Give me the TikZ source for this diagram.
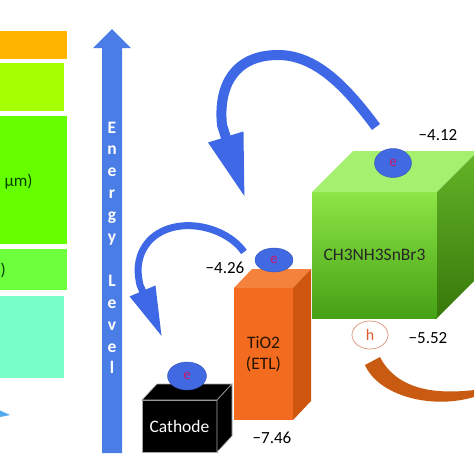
\documentclass[tikz,border=0pt]{standalone}
\usepackage{fontspec}
\setmainfont{Carlito}
\usetikzlibrary{arrows.meta,shapes.geometric}
\definecolor{levelblue}{HTML}{4A7DE6}
\definecolor{arcblue}{HTML}{3F68E6}
\definecolor{eblue}{HTML}{4169E1}
\definecolor{ered}{HTML}{C8186E}
\definecolor{holeorange}{HTML}{C85A12}
\definecolor{holeline}{HTML}{D8957A}
\definecolor{htext}{HTML}{E05A2A}
\definecolor{barA}{HTML}{FFB400}
\definecolor{barB}{HTML}{A6FF00}
\definecolor{barC}{HTML}{66FF00}
\definecolor{barD}{HTML}{6EFF3D}
\definecolor{barE}{HTML}{78FFC8}
\definecolor{barblue}{HTML}{55AAEE}
\definecolor{pvfrontA}{HTML}{8CE646}
\definecolor{pvfrontB}{HTML}{46A014}
\definecolor{pvtop}{HTML}{A5F06E}
\definecolor{pvsideA}{HTML}{64B428}
\definecolor{pvsideB}{HTML}{37780A}
\definecolor{tifront}{HTML}{F26B1F}
\definecolor{titop}{HTML}{F4823C}
\definecolor{tiside}{HTML}{CF560F}
\tikzset{
  face/.style={rectangle, inner sep=0pt, outer sep=0pt, align=center,
    font=\fontsize{17.5}{21}\selectfont},
  electron/.style={ellipse, fill=eblue, draw=eblue!80!black, line width=0.4pt,
    inner sep=0pt, text=ered, font=\fontsize{15}{17}\selectfont},
  hole/.style={ellipse, draw=holeline, line width=0.7pt, fill=white, inner sep=0pt,
    text=htext, font=\fontsize{16}{18}\selectfont, minimum width=36pt, minimum height=28pt},
  level/.style={font=\fontsize{17}{20}\selectfont},
  letter/.style={text=white, font=\bfseries\fontsize{17.5}{20}\selectfont, anchor=base},
  swoop/.style={draw=arcblue, line cap=butt},
}

\begin{document}
\begin{tikzpicture}[x=1pt, y=-1pt]
\useasboundingbox (0,0) rectangle (474,474);
\clip (0,0) rectangle (474,474);
\fill[white] (0,0) rectangle (474,474);

% left panel
\fill[barA] (0,31) rectangle (67,59);
\fill[barB] (0,63) rectangle (64,111);
\fill[barC] (0,116) rectangle (67,244);
\fill[barD] (0,249) rectangle (67,290);
\fill[barE] (0,296) rectangle (64,378);
\node[anchor=west, level, text=black!75!green] (um) at (1,182) {µm)};
\node[anchor=west, level, text=black!75!green] (paren) at (-3,270) {)};
\fill[barblue] (0,410.5) -- (10,415) -- (0,417) -- cycle;

% energy axis
\fill[levelblue] (102,453) -- (102,48) -- (93,48) -- (112,29) -- (131,48) -- (122,48) -- (122,453) -- cycle;
\foreach \l [count=\i from 0] in {E,n,e,r,g,y,{},L,e,v,e,l}
  \node[letter] (lt\i) at (112,133+21.9*\i) {\l};

% cathode
\node[face, minimum width=75pt, minimum height=52pt, fill=black, draw=gray!70, line width=0.6pt, text=white] (cathode) at (179.5,426) {Cathode};
\filldraw[fill=black, draw=gray!70, line width=0.6pt] (cathode.north west) -- ++(15,-16) -- ++(75,0) -- (cathode.north east) -- cycle;
\filldraw[fill=black, draw=gray!70, line width=0.6pt] (cathode.north east) -- ++(15,-16) -- ++(0,52) -- (cathode.south east) -- cycle;

% perovskite
\node[face, minimum width=125pt, minimum height=126pt, top color=pvfrontA, bottom color=pvfrontB, text=black!85] (perov) at (374.5,255) {CH3NH3SnBr3};
\fill[pvtop] (perov.north west) -- ++(41,-41) -- ++(125,0) -- (perov.north east) -- cycle;
\shade[top color=pvsideA, bottom color=pvsideB] (perov.north east) -- ++(41,-41) -- ++(0,126) -- (perov.south east) -- cycle;

% TiO2
\node[face, minimum width=59pt, minimum height=132pt, fill=tifront, text=black!85!orange] (tio) at (263.5,354) {TiO2\\(ETL)};
\fill[titop] (tio.north west) -- ++(18,-19) -- ++(59,0) -- (tio.north east) -- cycle;
\fill[tiside] (tio.north east) -- ++(18,-19) -- ++(0,132) -- (tio.south east) -- cycle;

% carriers
\node[electron, minimum width=39pt, minimum height=28pt] (ecat) at (187,376) {e};
\node[electron, minimum width=38pt, minimum height=24pt] (etio) at (274,260) {e};
\node[electron, minimum width=37pt, minimum height=29pt] (eper) at (393,163) {e};
\node[hole] (hper) at (370,335) {h};

\node[level] (v412) at (438,135) {−4.12};
\node[level] (v426) at (225,268) {−4.26};
\node[level] (v552) at (428,338) {−5.52};
\node[level] (v746) at (272,438) {−7.46};

% transfer arrows
\coordinate (s1) at (376,127);
\coordinate (t1) at (245,198);
\draw[swoop, line width=10pt, -{Triangle[length=64pt,width=34pt]}] (s1) .. controls (345,85) and (315,55) .. (278,55) .. controls (235,55) and (218,85) .. (222,125) -- (t1);
\coordinate (s2) at (244,252);
\coordinate (t2) at (162,337);
\draw[swoop, line width=7pt, -{Triangle[length=50pt,width=26pt]}] (s2) .. controls (225,225) and (175,215) .. (150,240) .. controls (138,253) and (136,268) .. (140,285) -- (t2);
\fill[holeorange] (365,365) .. controls (378,395) and (430,410) .. (474,397) -- (480,397) -- (480,389) -- (474,390) .. controls (440,394) and (398,392) .. (380,357) -- cycle;
\end{tikzpicture}
\end{document}
